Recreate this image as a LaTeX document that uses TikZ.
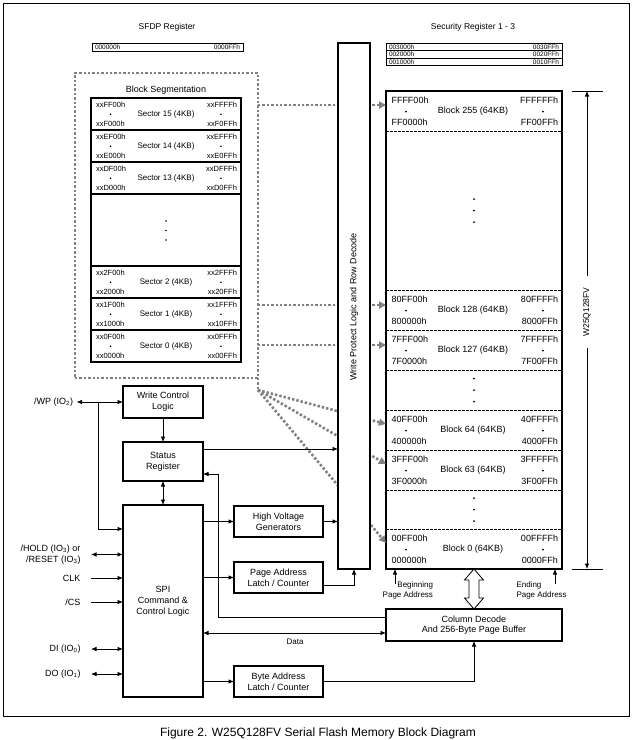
\documentclass[tikz,border=0pt]{standalone}
\usepackage{fontspec}
\setmainfont{Liberation Sans}
\usetikzlibrary{arrows.meta}
\tikzset{
 every node/.style={inner sep=0pt, outer sep=0pt},
 box/.style={draw, line width=1.1pt, fill=white, align=center, font=\fontsize{9}{11}\selectfont},
 conn/.style={line width=0.75pt},
 arr/.style={conn, -{Latex[length=5.5pt,width=4.5pt]}},
 dbl/.style={conn, {Latex[length=5.5pt,width=4.5pt]}-{Latex[length=5.5pt,width=4.5pt]}},
 dots/.style={draw=black!50, line width=2.6pt, dash pattern=on 2.4pt off 2pt},
 gtip/.style={-{Triangle[length=7pt,width=7pt]}},
 sadr/.style={font=\fontsize{7.5}{9}\selectfont},
 sname/.style={font=\fontsize{8}{9}\selectfont},
 badr/.style={font=\fontsize{9}{10}\selectfont},
 sig/.style={font=\fontsize{9}{11}\selectfont, align=right},
 tinyt/.style={font=\fontsize{6.5}{7}\selectfont},
 ttl/.style={font=\fontsize{8.5}{10}\selectfont},
 lbl8/.style={font=\fontsize{8}{10}\selectfont},
 sepd/.style={line width=0.7pt, dash pattern=on 2.5pt off 1.5pt},
 frame/.style={draw, line width=1.1pt},
}
% sector row: name, top y, TL, BL, label, TR, BR
\newcommand{\secrow}[7]{%
 \node[sadr, anchor=west] (#1-tl) at (96,#2+6.5) {#3};
 \node[sadr, anchor=west] (#1-bl) at (96,#2+26) {#4};
 \fill (110.5,#2+16.3) circle[radius=0.9pt];
 \node[sname] (#1-c) at (166,#2+16.3) {#5};
 \node[sadr, anchor=east] (#1-tr) at (237,#2+6.5) {#6};
 \node[sadr, anchor=east] (#1-br) at (237,#2+26) {#7};
 \fill (221,#2+16.3) circle[radius=0.9pt];
}
% memory block: name, top y, TL, BL, label, TR, BR
\newcommand{\memblk}[7]{%
 \node[badr, anchor=west] (#1-tl) at (391.5,#2+9.5) {#3};
 \node[badr, anchor=west] (#1-bl) at (391.5,#2+31) {#4};
 \fill (406,#2+20.5) circle[radius=1pt];
 \node[badr] (#1-c) at (473,#2+20.5) {#5};
 \node[badr, anchor=east] (#1-tr) at (558,#2+9.5) {#6};
 \node[badr, anchor=east] (#1-br) at (558,#2+31) {#7};
 \fill (543,#2+20.5) circle[radius=1pt];
}
\newcommand{\vdotsat}[2]{%
 \fill (#1,#2) circle[radius=1pt];
 \fill (#1,#2+11.5) circle[radius=1pt];
 \fill (#1,#2+23) circle[radius=1pt];
}
\begin{document}
\begin{tikzpicture}[x=1pt,y=-1pt]
\useasboundingbox (0,0) rectangle (634,740);
% outer frame
\draw[line width=1pt] (3,3) rectangle (629,716);

% titles
\node[ttl] (sfdpt) at (167,27) {SFDP Register};
\node[ttl] (sect3) at (473,27) {Security Register 1 - 3};

% SFDP register
\node[frame, line width=1pt, minimum width=151pt, minimum height=8pt] (sfdp) at (167.5,47) {};
\node[tinyt, anchor=west] (sfdpl) at (95,47.3) {000000h};
\node[tinyt, anchor=east] (sfdpr) at (240,47.3) {0000FFh};

% security registers
\node[frame, line width=1pt, minimum width=176pt, minimum height=7.5pt] (sec3) at (474,46.75) {};
\node[frame, line width=1pt, minimum width=176pt, minimum height=7.5pt] (sec2) at (474,54.25) {};
\node[frame, line width=1pt, minimum width=176pt, minimum height=7.5pt] (sec1) at (474,61.75) {};
\node[tinyt, anchor=west] (s3l) at (389,47) {003000h};
\node[tinyt, anchor=east] (s3r) at (559,47) {0030FFh};
\node[tinyt, anchor=west] (s2l) at (389,54.5) {002000h};
\node[tinyt, anchor=east] (s2r) at (559,54.5) {0020FFh};
\node[tinyt, anchor=west] (s1l) at (389,62) {001000h};
\node[tinyt, anchor=east] (s1r) at (559,62) {0010FFh};

% block segmentation dotted box
\node[dots, minimum width=183pt, minimum height=305pt] (seg) at (166.5,225.5) {};
\node[font=\fontsize{9}{10}\selectfont] (segt) at (166,90) {Block Segmentation};

% memory array
\node[frame, minimum width=176pt, minimum height=478pt] (array) at (474,330) {};

% target coordinates on array
\coordinate (t255) at (386,105);
\coordinate (t128) at (386,305);
\coordinate (t127) at (386,345);
\coordinate (t64) at (386,424);
\coordinate (t63) at (386,464);
\coordinate (t0) at (386,543);
\coordinate (fan) at (258,390);

% dotted mapping lines (behind the write protect box)
\draw[dots] (seg.south east) -- (fan);
\draw[dots,gtip] (t255 -| seg.east) -- (t255);
\draw[dots,gtip] (t128 -| seg.east) -- (t128);
\draw[dots,gtip] (t127 -| seg.east) -- (t127);
\draw[dots,gtip] (fan) -- (t64);
\draw[dots,gtip] (fan) -- (t63);
\draw[dots,gtip] (fan) -- (t0);

% sector table
\node[frame, fill=white, minimum width=150pt, minimum height=264pt] (sect) at (166,230) {};
\foreach \yy in {130,162,194,266,298,330} \draw[line width=1.1pt] (91,\yy) -- (241,\yy);
\secrow{s15}{98}{xxFF00h}{xxF000h}{Sector 15 (4KB)}{xxFFFFh}{xxF0FFh}
\secrow{s14}{130}{xxEF00h}{xxE000h}{Sector 14 (4KB)}{xxEFFFh}{xxE0FFh}
\secrow{s13}{162}{xxDF00h}{xxD000h}{Sector 13 (4KB)}{xxDFFFh}{xxD0FFh}
\fill (166,221) circle[radius=0.9pt];
\fill (166,230.5) circle[radius=0.9pt];
\fill (166,240) circle[radius=0.9pt];
\secrow{s2}{266}{xx2F00h}{xx2000h}{Sector 2 (4KB)}{xx2FFFh}{xx20FFh}
\secrow{s1}{298}{xx1F00h}{xx1000h}{Sector 1 (4KB)}{xx1FFFh}{xx10FFh}
\secrow{s0}{330}{xx0F00h}{xx0000h}{Sector 0 (4KB)}{xx0FFFh}{xx00FFh}

% memory array contents
\foreach \yy in {131,290,330,370,410,450,490,529} \draw[sepd] (386,\yy) -- (562,\yy);
\memblk{b255}{91}{FFFF00h}{FF0000h}{Block 255 (64KB)}{FFFFFFh}{FF00FFh}
\vdotsat{474}{199}
\memblk{b128}{290}{80FF00h}{800000h}{Block 128 (64KB)}{80FFFFh}{8000FFh}
\memblk{b127}{330}{7FFF00h}{7F0000h}{Block 127 (64KB)}{7FFFFFh}{7F00FFh}
\vdotsat{474}{378.5}
\memblk{b64}{410}{40FF00h}{400000h}{Block 64 (64KB)}{40FFFFh}{4000FFh}
\memblk{b63}{450}{3FFF00h}{3F0000h}{Block 63 (64KB)}{3FFFFFh}{3F00FFh}
\vdotsat{474}{498}
\memblk{b0}{529}{00FF00h}{000000h}{Block 0 (64KB)}{00FFFFh}{0000FFh}

% write protect logic box
\node[box, minimum width=32pt, minimum height=526pt] (wpb) at (354,306) {};
\node[rotate=90, font=\fontsize{9}{10}\selectfont] (wptxt) at (354,307) {Write Protect Logic and Row Decode};

% size dimension
\coordinate (dt) at (587,91);
\coordinate (db) at (587,569);
\draw[conn] (572,91) -- (603,91);
\draw[conn] (572,569) -- (603,569);
\draw[dbl] (dt) -- (db);
\node[fill=white, rotate=90, inner xsep=11pt, inner ysep=1pt, font=\fontsize{8.5}{10}\selectfont] (dlbl) at (587,312) {W25Q128FV};

% control blocks
\node[box, minimum width=80pt, minimum height=32pt] (wcl) at (163,402) {Write Control\\Logic};
\node[box, minimum width=80pt, minimum height=39pt] (stat) at (163,461.5) {Status\\Register};
\node[box, minimum width=80pt, minimum height=192pt] (spi) at (163,601) {SPI\\Command \&\\Control Logic};
\node[box, minimum width=89pt, minimum height=31pt] (hvg) at (278.5,521.5) {High Voltage\\Generators};
\node[box, minimum width=89pt, minimum height=31pt] (palc) at (278.5,577.5) {Page Address\\Latch / Counter};
\node[box, minimum width=89pt, minimum height=31pt] (balc) at (278.5,681.5) {Byte Address\\Latch / Counter};
\node[box, minimum width=176pt, minimum height=32pt, font=\fontsize{9}{10.5}\selectfont] (coldec) at (474,625) {Column Decode\\And 256-Byte Page Buffer};

% hollow double arrow between array and column decode
\draw[line width=0.8pt, fill=white] (474,569) -- (483.5,580) -- (479,580) -- (479,598) -- (483.5,598) -- (474,609) -- (464.5,598) -- (469,598) -- (469,580) -- (464.5,580) -- cycle;

% page address pointers
\coordinate (bpa) at (395,584);
\coordinate (epa) at (555,584);
\draw[arr] (bpa) -- (bpa |- array.south);
\draw[arr] (epa) -- (epa |- array.south);
\node[lbl8, align=right, anchor=east] (bpl) at (433,590) {Beginning\\Page Address};
\node[lbl8, align=left, anchor=west] (epl) at (516.5,590) {Ending\\Page Address};

% signal labels
\node[sig, anchor=east] (wpl) at (73,402) {/WP (IO\textsubscript{2})};
\node[sig, anchor=east] (hold) at (80.5,554.5) {/HOLD (IO\textsubscript{3}) or\\/RESET (IO\textsubscript{3})};
\node[sig, anchor=east] (clk) at (80.5,578) {CLK};
\node[sig, anchor=east] (cs) at (80.5,602) {/CS};
\node[sig, anchor=east] (di) at (80.5,649) {DI (IO\textsubscript{0})};
\node[sig, anchor=east] (do) at (80.5,674) {DO (IO\textsubscript{1})};

% signal connectors
\coordinate (wj) at (98,402);
\draw[dbl] ([xshift=3.5pt]wpl.east) -- (wcl.west);
\draw[arr] (wj) |- ([yshift=-24pt]spi.north west);
\draw[dbl] ([xshift=10.5pt]hold.east) -- (spi.west |- hold.east);
\draw[arr] ([xshift=10.5pt]clk.east) -- (spi.west |- clk.east);
\draw[arr] ([xshift=10.5pt]cs.east) -- (spi.west |- cs.east);
\draw[dbl] ([xshift=10.5pt]di.east) -- (spi.west |- di.east);
\draw[dbl] ([xshift=10.5pt]do.east) -- (spi.west |- do.east);

% internal connectors
\draw[arr] (wcl.south) -- (stat.north);
\draw[dbl] (stat.south) -- (spi.north);
\coordinate (sA) at ([yshift=12.5pt]stat.east);
\coordinate (sB) at ([yshift=-12.5pt]stat.east);
\draw[arr] (sA) -- (sA -| wpb.west);
\draw[arr] (spi.east |- hvg.west) -- (hvg.west);
\draw[arr] (hvg.east) -- (hvg.east -| wpb.west);
\draw[arr] (spi.east |- palc.west) -- (palc.west);
\coordinate (pA) at ([yshift=-7.5pt]palc.east);
\draw[arr] (pA) -| (wpb.south);
\draw[arr] (spi.east |- balc.west) -- (balc.west);
\draw[arr] (balc.east) -| (coldec.south);
\coordinate (cA) at ([yshift=8pt]coldec.west);
\coordinate (dA) at ([yshift=-8pt]coldec.west);
\coordinate (jx) at (218,0);
\draw[arr] (cA) -- (cA -| jx) -- (sB -| jx) -- (sB);
\draw[dbl] (dA -| spi.east) -- (dA);
\node[lbl8] (datal) at (295,642) {Data};

% caption
\node[font=\fontsize{12}{14}\selectfont] (cap) at (318,733) {Figure 2. W25Q128FV Serial Flash Memory Block Diagram};
\end{tikzpicture}
\end{document}
